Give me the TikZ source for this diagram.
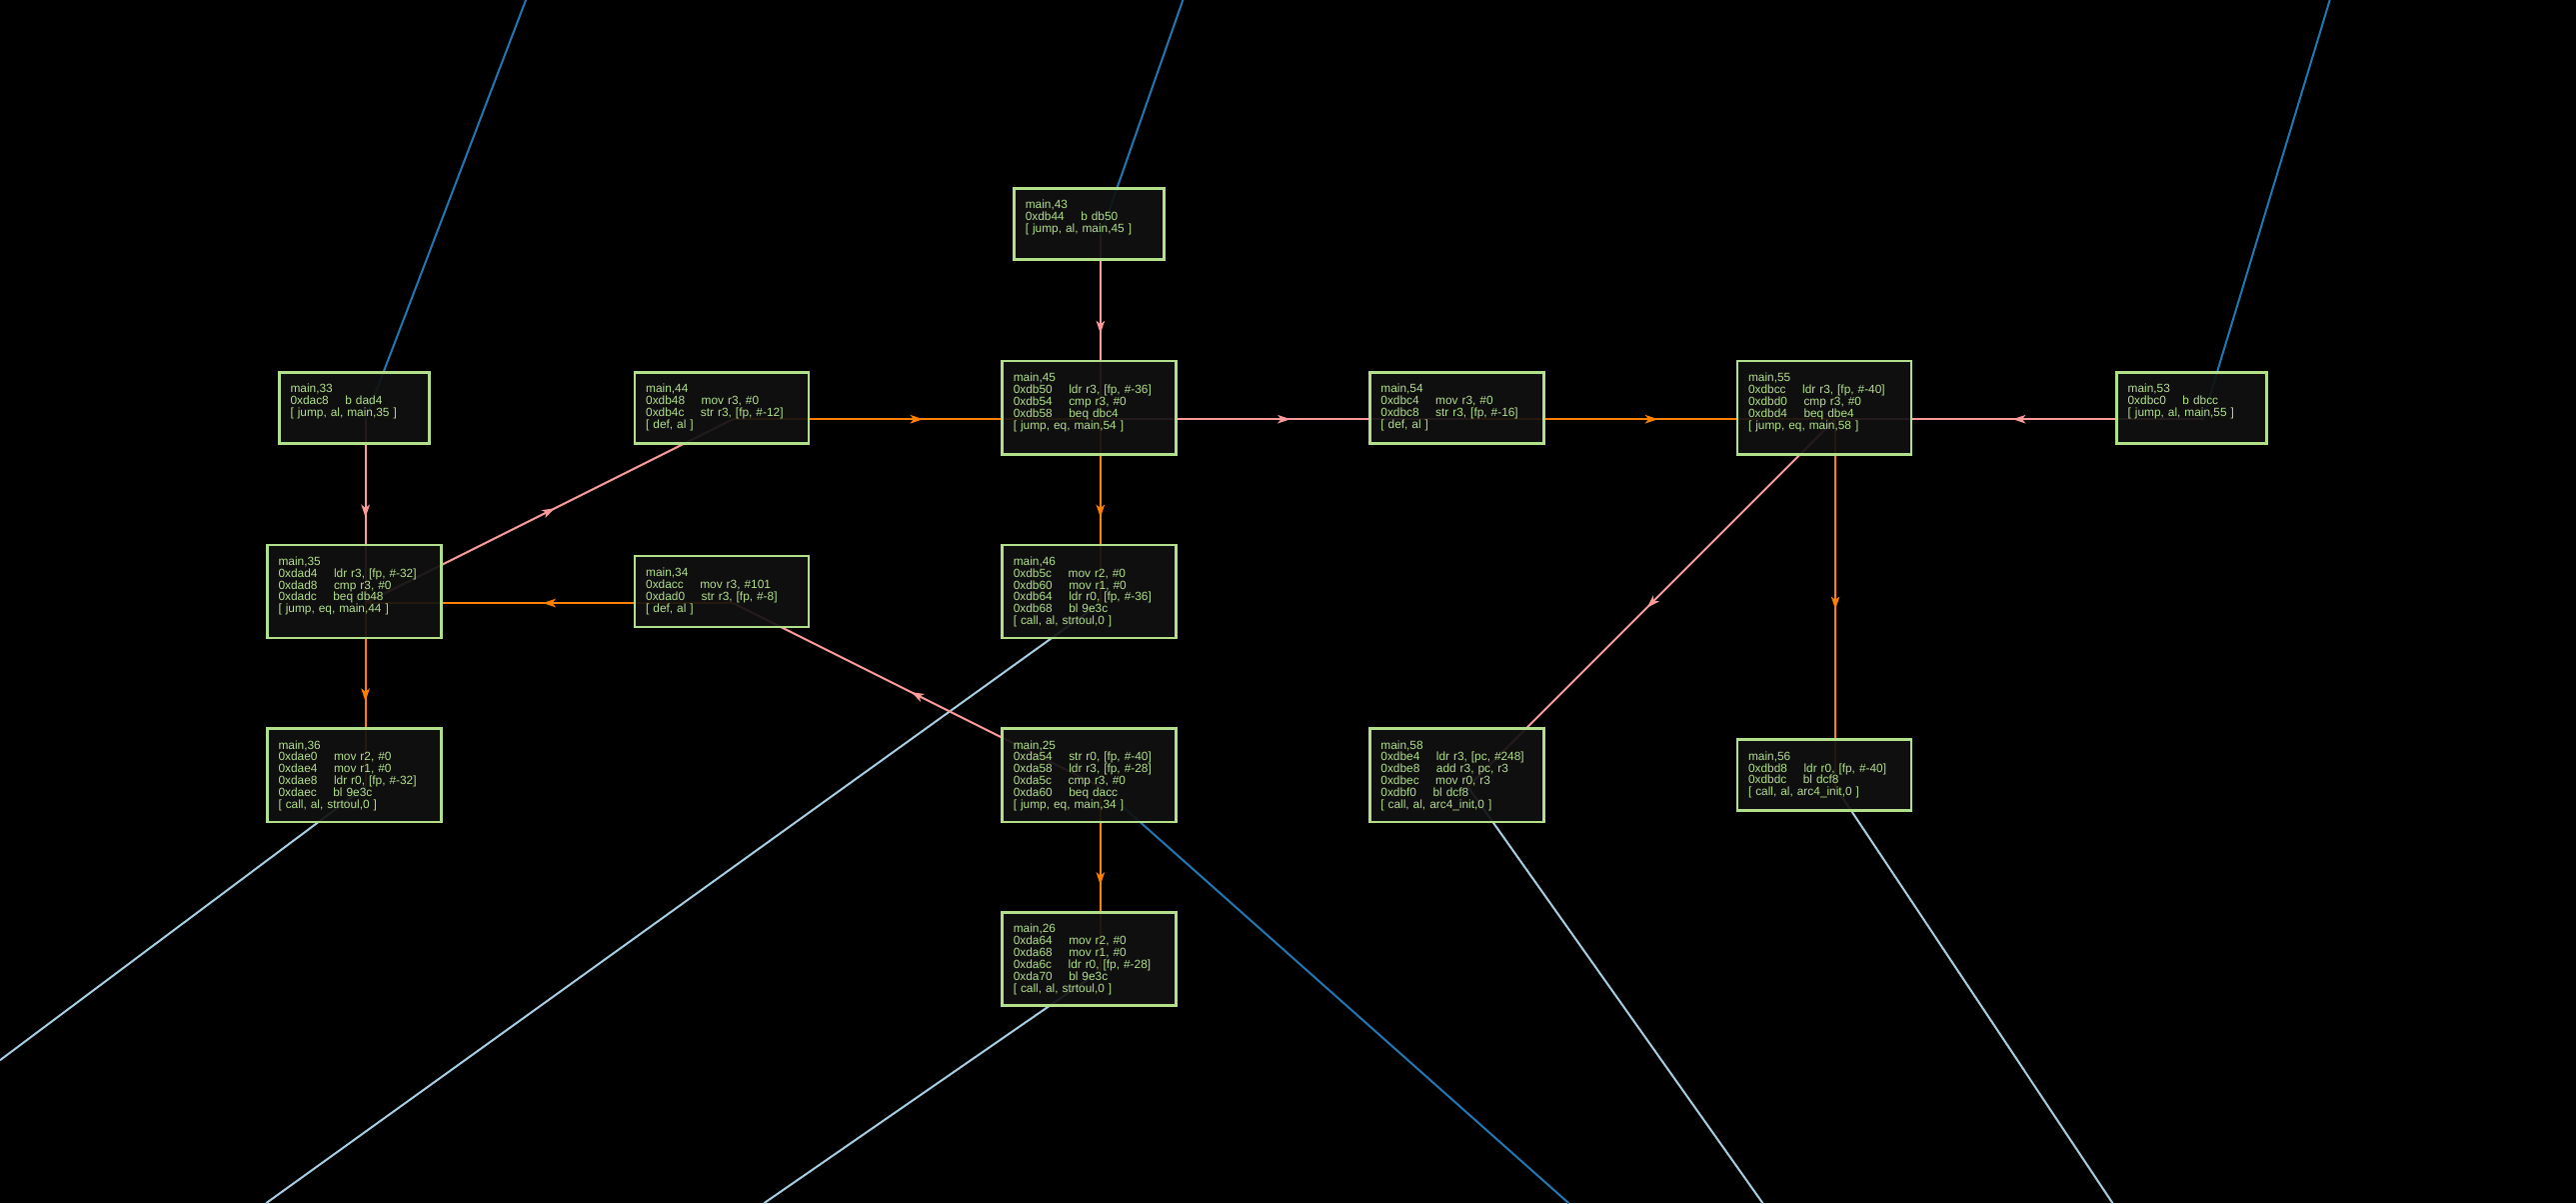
\documentclass[tikz,border=0pt]{standalone}
\usepackage{fontspec}
\setmainfont{Liberation Sans}
\usetikzlibrary{arrows.meta,backgrounds,decorations.markings}
\definecolor{cfgbg}{HTML}{000000}
\definecolor{cfgfill}{HTML}{111111}
\definecolor{cfggreen}{HTML}{B2DF8A}
\definecolor{jumppink}{HTML}{FB9A99}
\definecolor{fallorange}{HTML}{FF7F00}
\definecolor{calllight}{HTML}{A6CEE3}
\definecolor{calldark}{HTML}{1F78B4}
\newcommand{\insgap}{\hspace{1.39em}}

\begin{document}
\begin{tikzpicture}[
blk/.style={draw=cfggreen, line width=2.1pt, fill=cfgfill, fill opacity=0.92, text opacity=1,
text=cfggreen, font=\fontsize{9.2pt}{9.2pt}\selectfont, align=left,
inner xsep=0.303cm, inner ysep=0pt, text width=4.127cm, text height=0.555cm, text depth=1.377cm},
narrow/.style={text width=3.474cm},
tall/.style={text depth=1.982cm},
o/.style={shift={(0.305,-0.313)}},
midarrow/.style={postaction={decorate}, decoration={markings,
mark=at position 0.5 with {\arrow[xshift=1.75mm]{Stealth[length=3.5mm,width=2.3mm,inset=0.9mm]}}}},
jmp/.style={color=jumppink, line width=1.55pt, midarrow},
fall/.style={color=fallorange, line width=1.55pt, midarrow},
callout/.style={color=calllight, line width=1.55pt},
callin/.style={color=calldark, line width=1.55pt}
]
\useasboundingbox (0,0) rectangle (70.10,-32.73);

% blocks, one column every 10cm, one row every 5cm
\node[blk, narrow] (n43) at (29.64,-6.09) {main,43\\0xdb44\insgap b db50\\{[} jump, al, main,45 ]};

\node[blk, narrow] (n33) at (9.64,-11.09) {main,33\\0xdac8\insgap b dad4\\{[} jump, al, main,35 ]};
\node[blk] (n44) at (19.64,-11.09) {main,44\\0xdb48\insgap mov r3, \#0\\0xdb4c\insgap str r3, [fp, \#-12]\\{[} def, al ]};
\node[blk, tall] (n45) at (29.64,-11.09) {main,45\\0xdb50\insgap ldr r3, [fp, \#-36]\\0xdb54\insgap cmp r3, \#0\\0xdb58\insgap beq dbc4\\{[} jump, eq, main,54 ]};
\node[blk] (n54) at (39.64,-11.09) {main,54\\0xdbc4\insgap mov r3, \#0\\0xdbc8\insgap str r3, [fp, \#-16]\\{[} def, al ]};
\node[blk, tall] (n55) at (49.64,-11.09) {main,55\\0xdbcc\insgap ldr r3, [fp, \#-40]\\0xdbd0\insgap cmp r3, \#0\\0xdbd4\insgap beq dbe4\\{[} jump, eq, main,58 ]};
\node[blk, narrow] (n53) at (59.64,-11.09) {main,53\\0xdbc0\insgap b dbcc\\{[} jump, al, main,55 ]};

\node[blk, tall] (n35) at (9.64,-16.09) {main,35\\0xdad4\insgap ldr r3, [fp, \#-32]\\0xdad8\insgap cmp r3, \#0\\0xdadc\insgap beq db48\\{[} jump, eq, main,44 ]};
\node[blk] (n34) at (19.64,-16.09) {main,34\\0xdacc\insgap mov r3, \#101\\0xdad0\insgap str r3, [fp, \#-8]\\{[} def, al ]};
\node[blk, tall] (n46) at (29.64,-16.09) {main,46\\0xdb5c\insgap mov r2, \#0\\0xdb60\insgap mov r1, \#0\\0xdb64\insgap ldr r0, [fp, \#-36]\\0xdb68\insgap bl 9e3c\\{[} call, al, strtoul,0 ]};

\node[blk, tall] (n36) at (9.64,-21.09) {main,36\\0xdae0\insgap mov r2, \#0\\0xdae4\insgap mov r1, \#0\\0xdae8\insgap ldr r0, [fp, \#-32]\\0xdaec\insgap bl 9e3c\\{[} call, al, strtoul,0 ]};
\node[blk, tall] (n25) at (29.64,-21.09) {main,25\\0xda54\insgap str r0, [fp, \#-40]\\0xda58\insgap ldr r3, [fp, \#-28]\\0xda5c\insgap cmp r3, \#0\\0xda60\insgap beq dacc\\{[} jump, eq, main,34 ]};
\node[blk, tall] (n58) at (39.64,-21.09) {main,58\\0xdbe4\insgap ldr r3, [pc, \#248]\\0xdbe8\insgap add r3, pc, r3\\0xdbec\insgap mov r0, r3\\0xdbf0\insgap bl dcf8\\{[} call, al, arc4\_init,0 ]};
\node[blk] (n56) at (49.64,-21.09) {main,56\\0xdbd8\insgap ldr r0, [fp, \#-40]\\0xdbdc\insgap bl dcf8\\{[} call, al, arc4\_init,0 ]};

\node[blk, tall] (n26) at (29.64,-26.09) {main,26\\0xda64\insgap mov r2, \#0\\0xda68\insgap mov r1, \#0\\0xda6c\insgap ldr r0, [fp, \#-28]\\0xda70\insgap bl 9e3c\\{[} call, al, strtoul,0 ]};

% edges leaving the visible part
\coordinate (in33) at (14.31,0);
\coordinate (in43) at (32.19,0);
\coordinate (in53) at (63.40,0);
\coordinate (in25) at (42.69,-32.73);
\coordinate (out36) at (0,-28.84);
\coordinate (out46) at (7.24,-32.73);
\coordinate (out26) at (20.79,-32.73);
\coordinate (out58) at (47.97,-32.73);
\coordinate (out56) at (57.49,-32.73);

\begin{scope}[on background layer]
\fill[cfgbg] (0,0) rectangle (70.10,-32.73);

\draw[callin] (in33) -- ([o]n33.center);
\draw[callin] (in43) -- ([o]n43.center);
\draw[callin] (in53) -- ([o]n53.center);
\draw[callin] (in25) -- ([o]n25.center);
\draw[callout] ([o]n36.center) -- (out36);
\draw[callout] ([o]n46.center) -- (out46);
\draw[callout] ([o]n26.center) -- (out26);
\draw[callout] ([o]n58.center) -- (out58);
\draw[callout] ([o]n56.center) -- (out56);

% taken branches
\draw[jmp] ([o]n43.center) -- ([o]n45.center);
\draw[jmp] ([o]n33.center) -- ([o]n35.center);
\draw[jmp] ([o]n35.center) -- ([o]n44.center);
\draw[jmp] ([o]n45.center) -- ([o]n54.center);
\draw[jmp] ([o]n53.center) -- ([o]n55.center);
\draw[jmp] ([o]n25.center) -- ([o]n34.center);
\draw[jmp] ([o]n55.center) -- ([o]n58.center);

% fall through
\draw[fall] ([o]n44.center) -- ([o]n45.center);
\draw[fall] ([o]n54.center) -- ([o]n55.center);
\draw[fall] ([o]n34.center) -- ([o]n35.center);
\draw[fall] ([o]n35.center) -- ([o]n36.center);
\draw[fall] ([o]n45.center) -- ([o]n46.center);
\draw[fall] ([o]n25.center) -- ([o]n26.center);
\draw[fall] ([o]n55.center) -- ([o]n56.center);
\end{scope}

\end{tikzpicture}
\end{document}
